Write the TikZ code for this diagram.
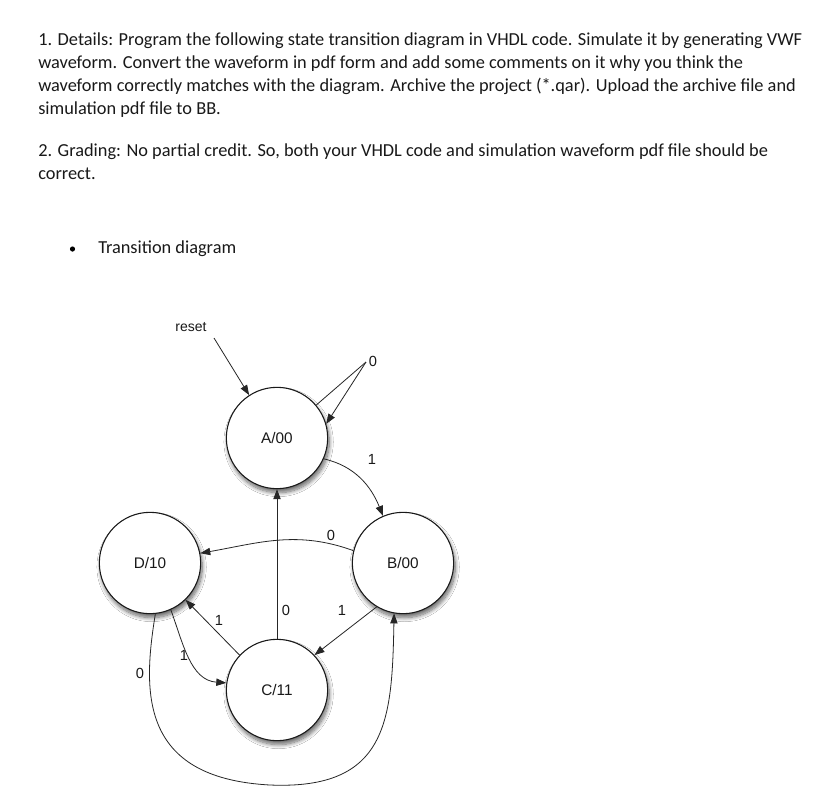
\documentclass[tikz,border=0pt]{standalone}
\usepackage{fontspec}
\setmainfont{Carlito}
\newfontfamily\diafont{Liberation Sans}
\usetikzlibrary{arrows.meta,shadows.blur}
\begin{document}
\begin{tikzpicture}[x=0.75pt,y=-0.75pt,
  txt/.style={anchor=base west,inner sep=0pt,font=\fontsize{13.75}{16.5}\selectfont,text=black!90},
  state/.style={circle,draw=black!90,line width=0.8pt,fill=white,minimum size=76pt,inner sep=0pt,
     font=\diafont\fontsize{11.5}{13}\selectfont,text=black!90,
     blur shadow={shadow xshift=1.2pt,shadow yshift=-3pt,shadow blur steps=10,shadow blur radius=3pt,shadow opacity=60}},
  lbl/.style={font=\diafont\fontsize{11}{12}\selectfont,text=black!90,inner sep=1pt},
  arr/.style={line width=0.6pt,draw=black!85,-{Triangle[length=7.5pt,width=5.5pt]}},
  ln/.style={line width=0.6pt,draw=black!85}]
\useasboundingbox (0,0) rectangle (828,807);
\fill[white] (0,0) rectangle (828,807);
% text
\node[txt] (t1) at (38,45.5) {1. Details: Program the following state transition diagram in VHDL code. Simulate it by generating VWF};
\node[txt] (t2) at (38,68.5) {waveform. Convert the waveform in pdf form and add some comments on it why you think the};
\node[txt] (t3) at (38,91) {waveform correctly matches with the diagram. Archive the project (*.qar). Upload the archive file and};
\node[txt] (t4) at (38,114) {simulation pdf file to BB.};
\node[txt] (t5) at (38,156) {2. Grading: No partial credit. So, both your VHDL code and simulation waveform pdf file should be};
\node[txt] (t6) at (38,179) {correct.};
\fill[black] (72.5,249) circle (2.6);
\node[txt] (t7) at (98,253.5) {Transition diagram};
% states
\node[state] (A) at (277,438) {A/00};
\node[state] (D) at (150,563) {D/10};
\node[state] (B) at (403,563) {B/00};
\node[state] (C) at (277,690) {C/11};
% reset
\node[lbl,font=\diafont\fontsize{10.5}{12}\selectfont] (reset) at (191,327) {reset};
\coordinate (rs) at (214,338);
\draw[arr] (rs) -- (A.123);
% self loop
\coordinate (lp) at (366,362);
\draw[ln] (A.40) -- (lp);
\draw[arr] (lp) -- (A.16);
\node[lbl] (l0) at (373,361) {0};
% A -> B
\draw[arr] (A.-24) to[out=-13,in=112] (B.113);
\node[lbl] (l1) at (372,459) {1};
% C -> A
\draw[arr] (C.90) -- (A.-90);
\node[lbl] (l2) at (286,610) {0};
% B -> D
\draw[arr] (B.166) to[out=160,in=10] (D.11);
\node[lbl] (l3) at (331,535) {0};
% B -> C
\draw[arr] (B.-121) -- (C.43);
\node[lbl] (l4) at (342,610) {1};
% C -> D
\draw[arr] (C.137) -- (D.-46);
\node[lbl] (l5) at (219,620) {1};
% D -> C
\draw[arr] (D.-66) to[out=-70,in=176] (C.172);
\node[lbl] (l6) at (184,655) {1};
% D -> B
\draw[arr] (D.-84) .. controls (143,690) and (138,778) .. (270,785) .. controls (388,790) and (392,720) .. (B.-100);
\node[lbl] (l7) at (140,673) {0};
\end{tikzpicture}
\end{document}
